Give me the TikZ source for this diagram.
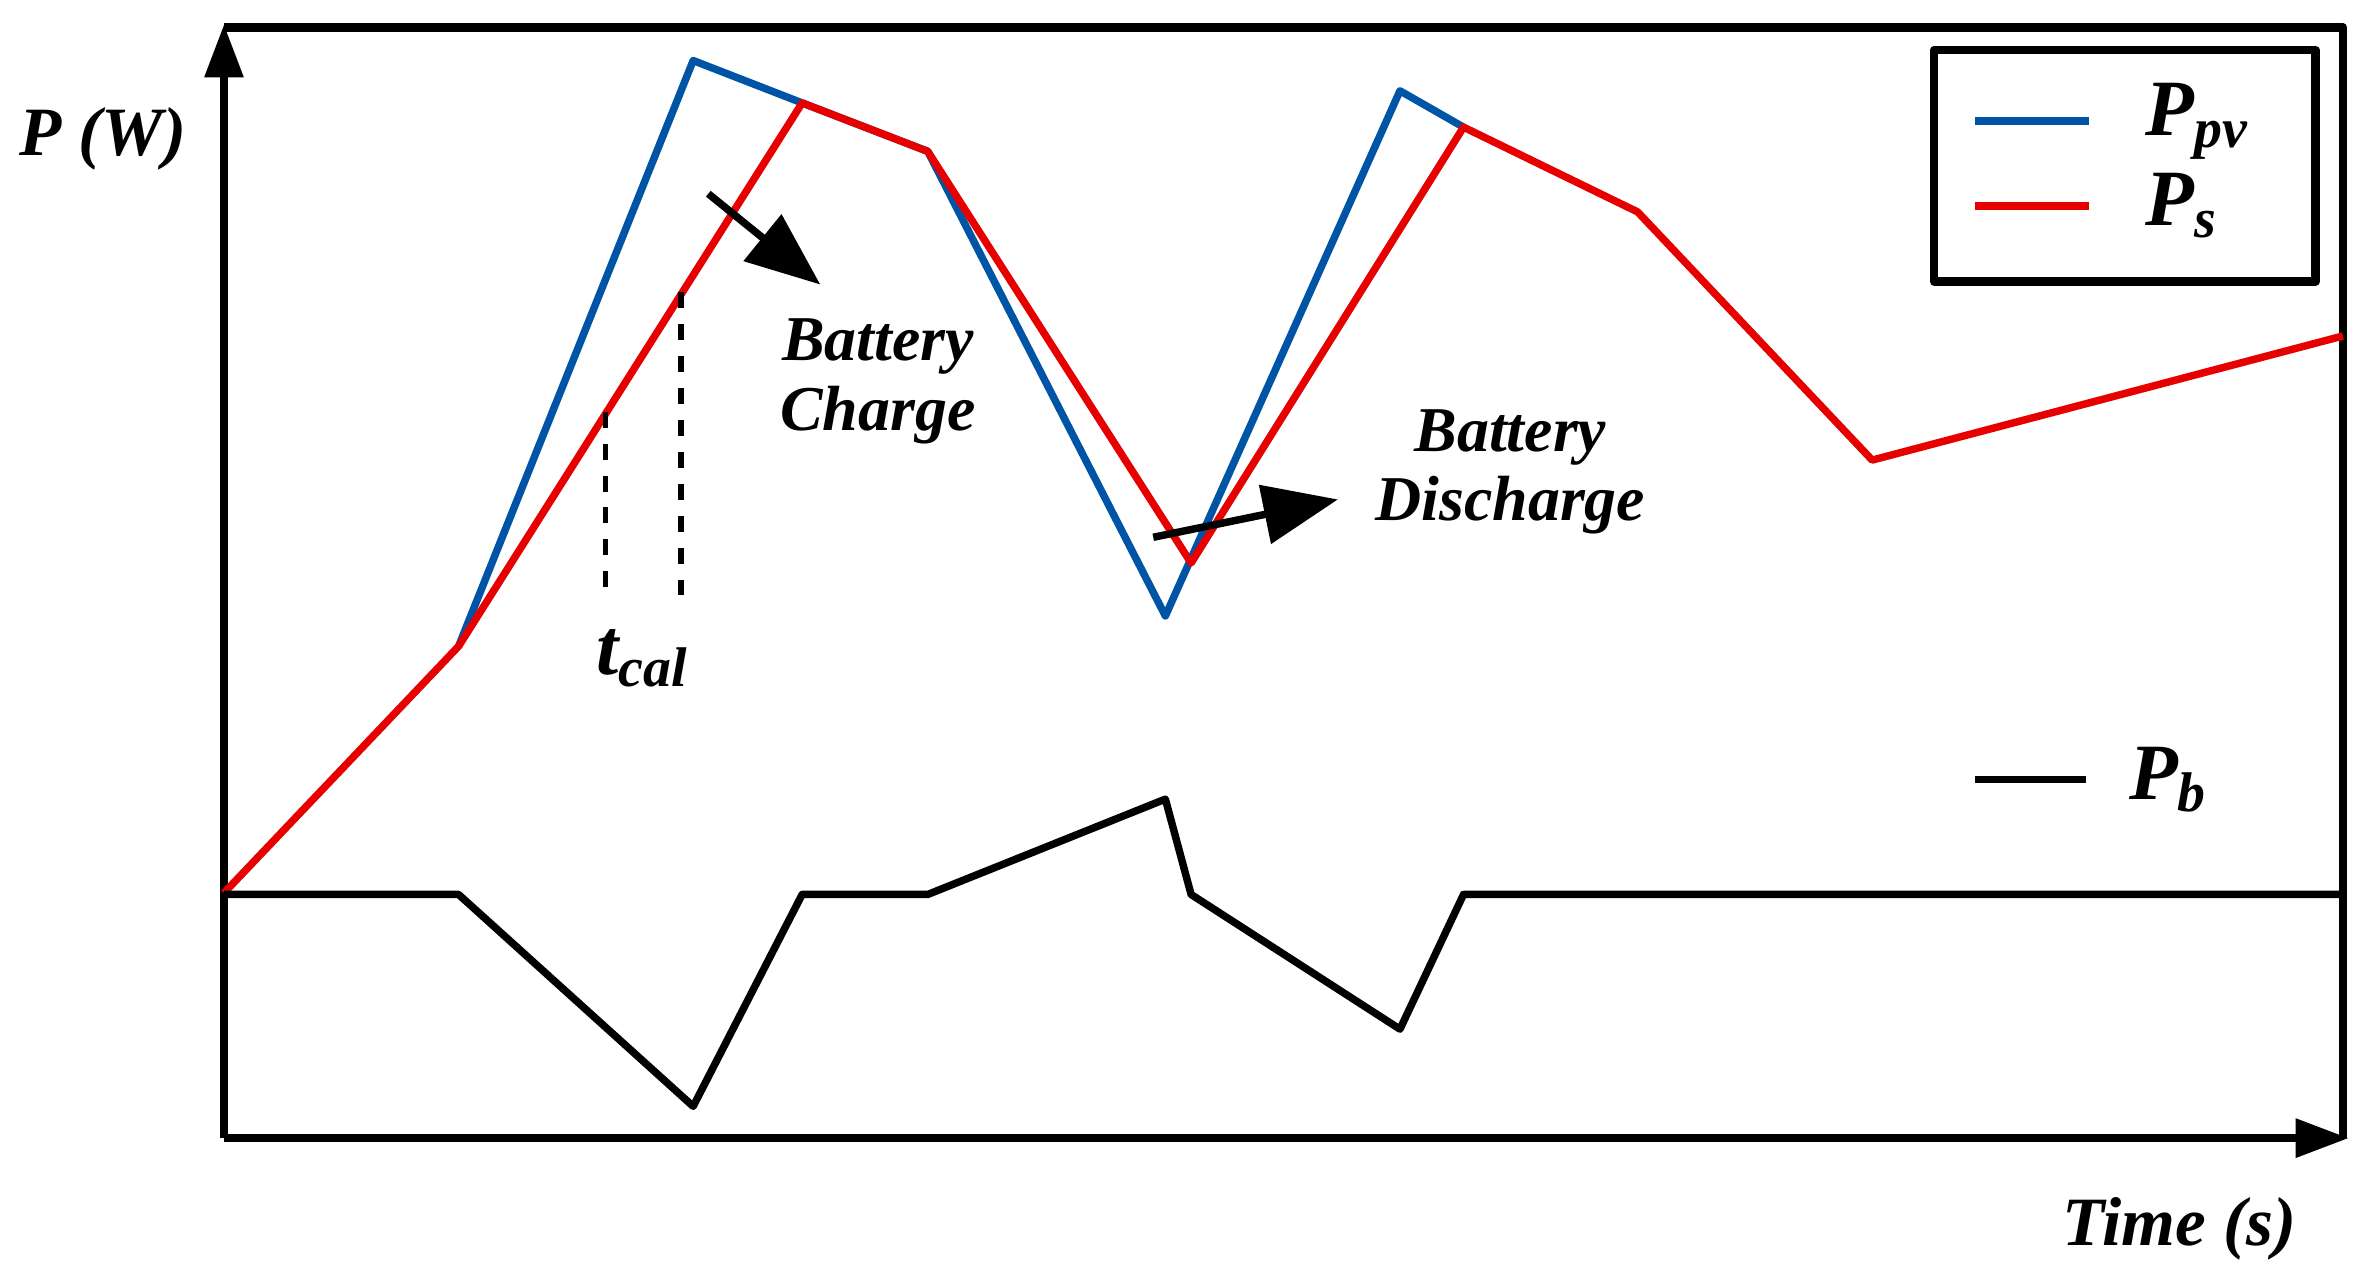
\documentclass[tikz,border=0pt]{standalone}
\usepackage{fontspec}
\setmainfont{Liberation Serif}
\usetikzlibrary{arrows.meta}
\tikzset{
  lbl/.style={font=\fontsize{12}{13}\selectfont\bfseries\itshape, align=center, inner sep=1pt},
  ppv/.style={draw={rgb,255:red,0;green,84;blue,166}, line width=1.4pt},
  ps/.style={draw={rgb,255:red,230;green,0;blue,0}, line width=1.4pt},
  pb/.style={draw=black, line width=1.4pt},
  bigarrow/.style={-{Triangle[length=14pt,width=11pt]}, line width=1.4pt}
}
\begin{document}
\begin{tikzpicture}[x=0.01cm,y=-0.01cm, line join=round]
  \useasboundingbox (0,0) rectangle (1560,845);

  % frame and axes
  \draw[line width=1.6pt] (148,18) -- (1548,18) -- (1548,752);
  \draw[line width=1.6pt,-{Triangle[length=10pt,width=7pt]}] (148,752) -- (148,16);
  \draw[line width=1.6pt,-{Triangle[length=10pt,width=7pt]}] (148,752) -- (1552,752);

  % curves
  \draw[ppv] (303,427) -- (458,40) -- (530,68) -- (613,100) -- (770,407)
    -- (925,60) -- (967,84);
  \draw[ps] (148,590) -- (303,427) -- (530,68) -- (613,100) -- (787,372)
    -- (967,84) -- (1082,140) -- (1237,304) -- (1548,222);
  \draw[pb] (148,591) -- (303,591) -- (458,731) -- (530,591) -- (613,591)
    -- (770,528) -- (787,591) -- (925,680) -- (967,591) -- (1548,591);

  % t_cal
  \draw[dashed, line width=1pt] (400,272) -- (400,395);
  \draw[dashed, line width=1pt] (450,193) -- (450,395);
  \node[lbl, font=\fontsize{15}{16}\selectfont\bfseries\itshape] (tcal) at (425,435) {t\textsubscript{cal}};

  % annotations
  \coordinate (c1) at (468,128);
  \coordinate (c2) at (542,188);
  \draw[bigarrow] (c1) -- (c2);
  \node[lbl] (charge) at (580,252) {Battery\\Charge};
  \coordinate (d1) at (762,355);
  \coordinate (d2) at (884,330);
  \draw[bigarrow] (d1) -- (d2);
  \node[lbl] (discharge) at (998,312) {Battery\\Discharge};

  % legend
  \draw[line width=1.6pt] (1278,33) rectangle (1530,186);
  \draw[ppv] (1305,80) -- (1380,80);
  \node[lbl, font=\fontsize{15}{16}\selectfont\bfseries\itshape] (lpv) at (1452,80) {P\textsubscript{pv}};
  \draw[ps] (1305,136) -- (1380,136);
  \node[lbl, font=\fontsize{15}{16}\selectfont\bfseries\itshape] (lps) at (1442,136) {P\textsubscript{s}};
  \draw[pb] (1305,515) -- (1378,515);
  \node[lbl, font=\fontsize{15}{16}\selectfont\bfseries\itshape] (lpb) at (1433,515) {P\textsubscript{b}};

  % axis labels
  \node[lbl, font=\fontsize{13}{14}\selectfont\bfseries\itshape] (ylab) at (68,92) {P (W)};
  \node[lbl, font=\fontsize{13}{14}\selectfont\bfseries\itshape] (xlab) at (1440,812) {Time (s)};
\end{tikzpicture}
\end{document}
